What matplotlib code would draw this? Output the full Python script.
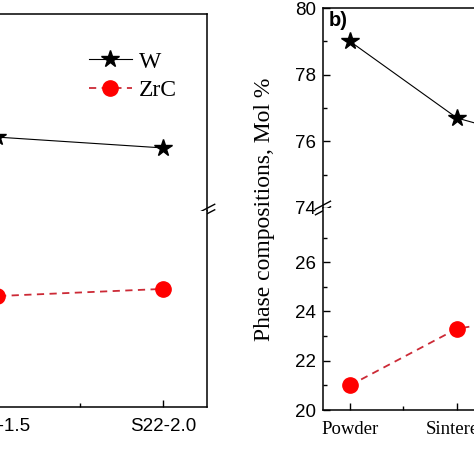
import matplotlib
matplotlib.use("Agg")
import matplotlib.pyplot as plt
from matplotlib.ticker import MultipleLocator, FixedLocator

# left panel (a), only two samples fall inside the crop
samples_a = ['S22-1.5', 'S22-2.0']
w_a = [76.25, 75.92]
zrc_a = [24.64, 24.94]

# right panel (b), third state sits outside the crop
states_b = ['Powder', 'Sintered', 'Annealed']
w_b = [79.0, 76.7, 75.8]
zrc_b = [21.0, 23.3, 24.0]

upper_lim = (74, 80)
lower_lim = (20, 28.2)

SANS = 'Liberation Sans'
SERIF = 'Liberation Serif'
RED_LINE = '#cc2a36'
RED_MARK = '#ff0000'

fig = plt.figure(figsize=(4.74, 4.74), dpi=100)


def style_axis(ax):
    for s in ax.spines.values():
        s.set_linewidth(1.1)
    ax.tick_params(which='both', direction='in', top=False, right=False,
                   labelsize=13.5, width=1.0)
    ax.tick_params(which='major', length=5)
    ax.tick_params(which='minor', length=3)
    for lab in ax.get_yticklabels() + ax.get_xticklabels():
        lab.set_fontfamily(SANS)


def break_marks(ax, xpos, y, dx):
    # two short slanted strokes crossing the spine
    dy = 0.02
    for off in (-0.014, 0.014):
        ax.plot([xpos - dx, xpos + dx], [y + off - dy, y + off + dy],
                transform=ax.transAxes, color='black', lw=1.0,
                clip_on=False, zorder=10)


def split_panel(rect_top, rect_bot, xlim):
    top = fig.add_axes(rect_top)
    bot = fig.add_axes(rect_bot, sharex=top)
    top.set_ylim(*upper_lim)
    bot.set_ylim(*lower_lim)
    top.set_xlim(*xlim)
    top.spines['bottom'].set_visible(False)
    bot.spines['top'].set_visible(False)
    top.tick_params(axis='x', which='both', bottom=False, labelbottom=False)
    return top, bot


# ---- panel a (mostly off to the left) ----
xa = [1, 2]
a_top, a_bot = split_panel([-0.449, 0.5549, 0.886, 0.4156],
                           [-0.449, 0.1414, 0.886, 0.4135],
                           (-0.265, 2.265))
lw_line, = a_top.plot(xa, w_a, color='black', lw=0.8, marker='*', ms=13,
                      mfc='black', mec='black', label='W')
zr_line, = a_bot.plot(xa, zrc_a, color=RED_LINE, lw=1.3, ls=(0, (4, 3)),
                      marker='o', ms=11, mfc=RED_MARK, mec=RED_MARK, label='ZrC')
a_bot.xaxis.set_major_locator(FixedLocator(xa))
a_bot.xaxis.set_minor_locator(MultipleLocator(0.5))
a_bot.set_xticklabels(samples_a)
for ax in (a_top, a_bot):
    ax.set_yticks([])
    ax.yaxis.set_minor_locator(FixedLocator([]))
    style_axis(ax)
a_bot.tick_params(axis='x', pad=8)
break_marks(a_top, 1.0, 0.0, 0.018)

leg = a_top.legend(handles=[lw_line, zr_line], loc='upper left',
                   bbox_to_anchor=(0.168, 0.912), bbox_transform=fig.transFigure,
                   frameon=False, handlelength=1.8, handletextpad=0.3,
                   labelspacing=0.3, borderaxespad=0,
                   prop={'family': SERIF, 'size': 17})

# ---- panel b (runs off to the right) ----
xb = list(range(len(states_b)))
b_top, b_bot = split_panel([0.6814, 0.5612, 0.5654, 0.4219],
                           [0.6814, 0.1350, 0.5654, 0.4262],
                           (-0.252, 2.252))
b_top.plot(xb, w_b, color='black', lw=0.8, marker='*', ms=13,
           mfc='black', mec='black')
b_bot.plot(xb, zrc_b, color=RED_LINE, lw=1.3, ls=(0, (4, 3)),
           marker='o', ms=11, mfc=RED_MARK, mec=RED_MARK)
b_top.yaxis.set_major_locator(MultipleLocator(2))
b_top.yaxis.set_minor_locator(MultipleLocator(1))
b_bot.yaxis.set_major_locator(FixedLocator([20, 22, 24, 26]))
b_bot.yaxis.set_minor_locator(FixedLocator([21, 23, 25, 27]))
b_bot.xaxis.set_major_locator(FixedLocator(xb))
b_bot.xaxis.set_minor_locator(MultipleLocator(0.5))
b_bot.set_xticklabels(states_b)
for ax in (b_top, b_bot):
    style_axis(ax)
    ax.tick_params(axis='y', pad=5)
for lab in b_bot.get_xticklabels():
    lab.set_fontfamily(SERIF)
    lab.set_fontsize(13.5)
b_bot.tick_params(axis='x', pad=8)
break_marks(b_top, 0.0, 0.0, 0.028)

fig.text(0.694, 0.976, 'b)', fontfamily=SANS, fontweight='bold',
         fontsize=14.5, ha='left', va='top')
fig.text(0.557, 0.559, 'Phase compositions, Mol %', fontfamily=SERIF,
         fontsize=17, rotation=90, ha='center', va='center')

fig.savefig('out.png', dpi=100)
